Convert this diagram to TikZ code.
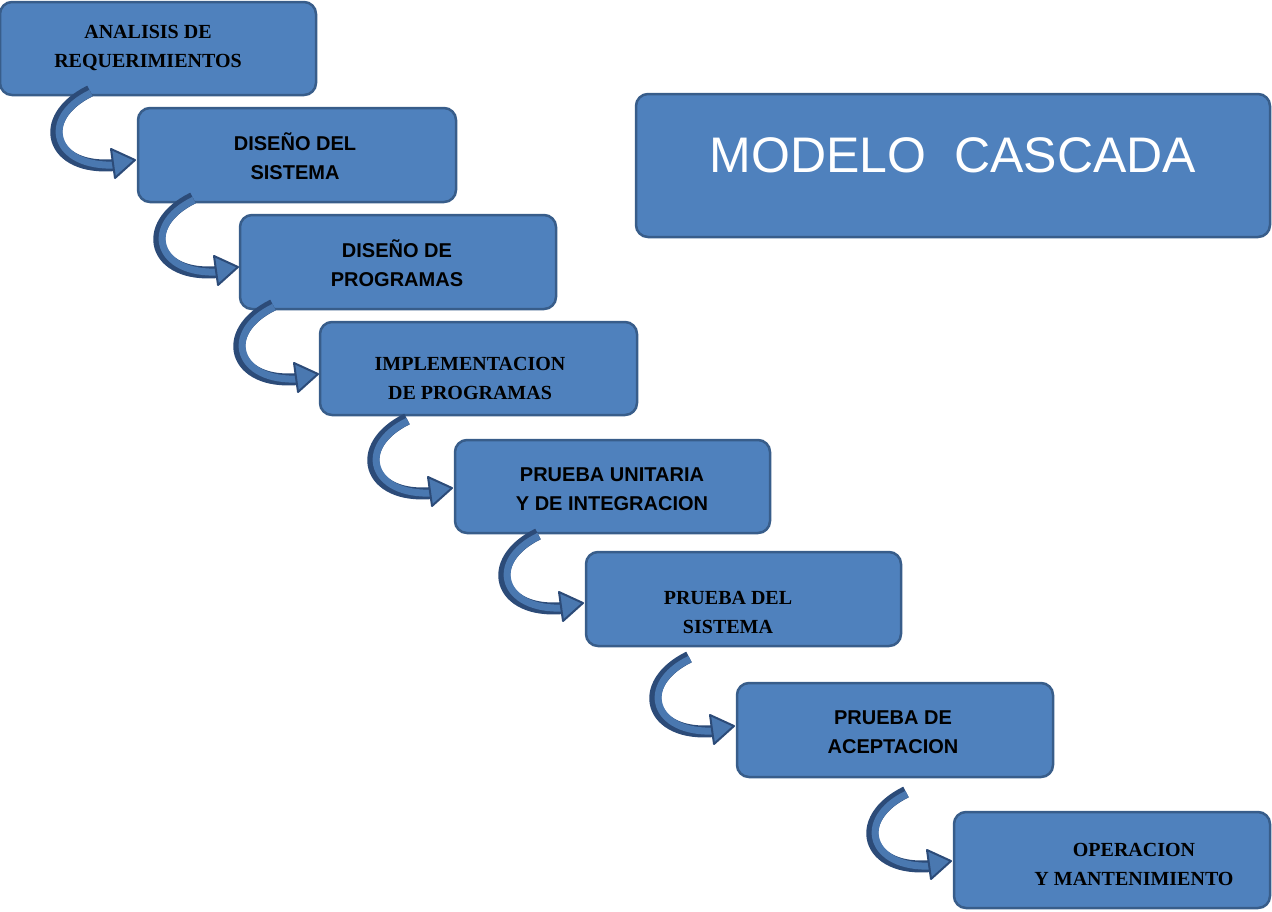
\documentclass[tikz,border=0pt]{standalone}
\usepackage{fontspec}
\setmainfont{Liberation Serif}
\newfontfamily\sansf{Liberation Sans}
\begin{document}
\begin{tikzpicture}[x=1pt,y=-1pt,
  box/.style={draw=boxline,fill=boxfill,line width=2.5pt,rounded corners=12pt,inner sep=0pt},
  lab/.style={align=center,font=\fontsize{20}{29}\selectfont\bfseries,text=black},
  sl/.style={lab,font=\fontsize{20}{29}\selectfont\sansf\bfseries}]
\definecolor{boxfill}{HTML}{4F81BD}
\definecolor{boxline}{HTML}{385D8A}
\definecolor{arrfill}{HTML}{4A78B0}
\definecolor{arrline}{HTML}{2C4B78}
\useasboundingbox (0,0) rectangle (1272,911);
\newcommand\boxat[6]{\draw[box] (#2,#3) rectangle (#4,#5);
  \node[#6] (#1) at ({(#2+#4)/2},{(#3+#5)/2}) {};}
\draw[box] (0,2) rectangle (316,95);
\draw[box] (138,108) rectangle (456,202);
\draw[box] (240,215) rectangle (556,309);
\draw[box] (320,322) rectangle (637,415);
\draw[box] (455,440) rectangle (770,533);
\draw[box] (586,552) rectangle (901,646);
\draw[box] (737,683) rectangle (1053,777);
\draw[box] (954,812) rectangle (1270,908);
\draw[box] (636,94) rectangle (1270,237);
\node[lab] (t1) at (148,48) {ANALISIS DE\\REQUERIMIENTOS};
\node[sl] (t2) at (295,156) {DISEÑO DEL\\SISTEMA};
\node[sl] (t3) at (397,263) {DISEÑO DE\\PROGRAMAS};
\node[lab] (t4) at (470,378) {IMPLEMENTACION\\DE PROGRAMAS};
\node[sl] (t5) at (612,489) {PRUEBA UNITARIA\\Y DE INTEGRACION};
\node[lab] (t6) at (728,612) {PRUEBA DEL\\SISTEMA};
\node[sl] (t7) at (893,732) {PRUEBA DE\\ACEPTACION};
\node[lab] (t8) at (1134,864) {OPERACION\\Y MANTENIMIENTO};
\node[font=\fontsize{50}{60}\selectfont\sansf,text=white] (title) at (953,155) {MODELO\ \ CASCADA};
\newcommand\carrow[2]{%
 \begin{scope}[shift={(#1,#2)}]
  \draw[arrline,line width=12pt] (-45,-72) .. controls (-100,-45) and (-85,8) .. (-20,2);
  \draw[arrfill,line width=7pt] (-44,-70) .. controls (-96,-45) and (-82,5) .. (-19,2);
  \filldraw[fill=arrfill,draw=arrline,line width=2pt,line join=round] (-24,-14) -- (0,-3) -- (-20,15) -- cycle;
 \end{scope}}
\carrow{135}{163}
\carrow{238}{270}
\carrow{318}{377}
\carrow{452}{491}
\carrow{583}{606}
\carrow{734}{729}
\carrow{951}{864}
\end{tikzpicture}
\end{document}
